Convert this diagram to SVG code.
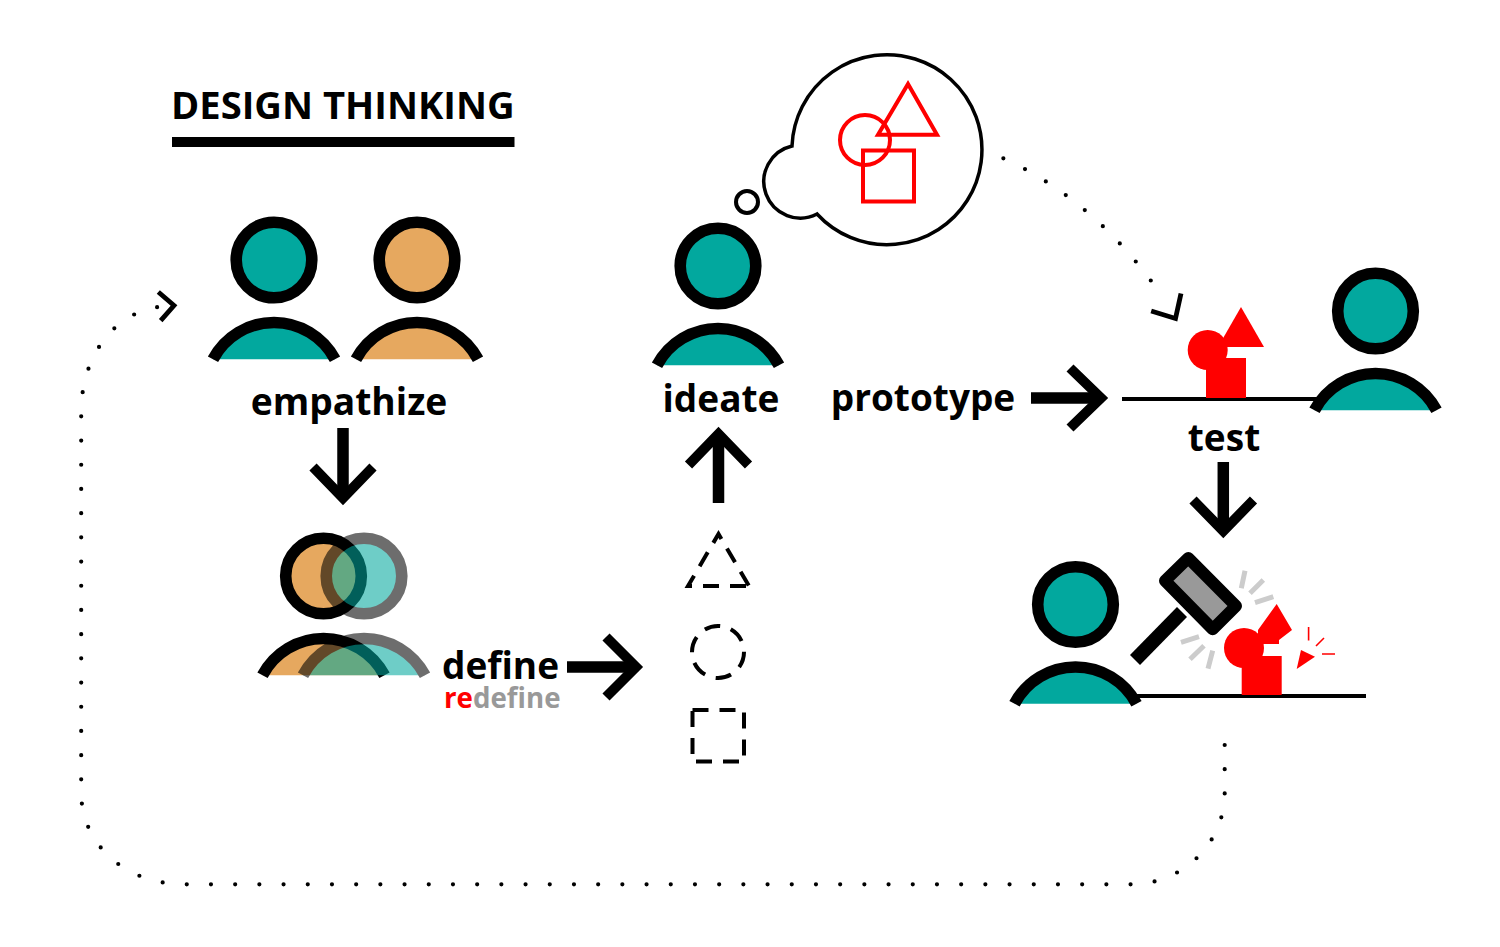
<svg xmlns="http://www.w3.org/2000/svg" xmlns:xlink="http://www.w3.org/1999/xlink" width="1500" height="947" viewBox="0 0 1500 947">
<style>
.t{font-family:"Open Sans","Liberation Sans",sans-serif;font-weight:700;fill:#000}
.ring{fill:none;stroke:#000;stroke-width:11.600}
.teal{fill:#02a89e}.org{fill:#e6a85f}
.arr{fill:none;stroke:#000;stroke-width:10}
.sh{fill:none;stroke:#000;stroke-width:11.500}
.dot{fill:none;stroke:#000;stroke-width:4.200;stroke-linecap:round;stroke-dasharray:0 24.200}
.head{fill:none;stroke:#000;stroke-width:4.800}
.dash{fill:none;stroke:#000;stroke-width:4;stroke-dasharray:16 11}
.red{fill:#f00}.ro{fill:none;stroke:#f00;stroke-width:4}
.spark{stroke:#ccc;stroke-width:5;fill:none}
.rs{stroke:#f00;stroke-width:1.600;fill:none}
.ln{stroke:#000;stroke-width:4;fill:none}
</style>
<defs>
<g id="pr"><circle cx="0" cy="0" r="37.800" class="ring"/><path d="M-61 99.200A69 69 0 0 1 61 99.200" class="ring"/></g>
<path id="pb" d="M-61 99.200A69 69 0 0 1 61 99.200Z"/>
<circle id="ph" cx="0" cy="0" r="37.800"/>
</defs>
<g id="title"><text class="t" x="171" y="118.500" font-size="38.200">DESIGN THINKING</text><rect x="172" y="137" width="342.500" height="10"/></g>
<g id="connectors">
<path class="sh" d="M343 428V498"/><path class="arr" d="M313 467L343 498L373 467"/>
<path class="sh" d="M567 667H636"/><path class="arr" d="M606 637L636 667L606 697"/>
<path class="sh" d="M718.500 503V434"/><path class="arr" d="M688.500 465L718.500 434L748.500 465"/>
<path class="sh" d="M1031 398H1101"/><path class="arr" d="M1070 368L1101 398L1070 428"/>
<path class="sh" d="M1223.300 462V531"/><path class="arr" d="M1193 500L1223.300 531L1253.500 500"/>
<path class="dot" d="M981 149Q1090 190 1164.700 300"/>
<path class="head" d="M1151.200 311L1175.500 318.500L1181 293.500"/>
<path class="dot" d="M1224.700 745V793C1224.700 843 1183 884.300 1131 884.300H184C126 884.300 81.500 845 81.200 793V414C80.700 355 115 313 158.300 307"/>
<path class="head" d="M158.300 292L174 305.500L160.700 320.700"/>
</g>
<g id="empathize"><use xlink:href="#ph" href="#ph" x="274" y="260" class="teal"/><use xlink:href="#pb" href="#pb" x="274" y="260" class="teal"/><use xlink:href="#pr" href="#pr" x="274" y="260"/>
<use xlink:href="#ph" href="#ph" x="417" y="260" class="org"/><use xlink:href="#pb" href="#pb" x="417" y="260" class="org"/><use xlink:href="#pr" href="#pr" x="417" y="260"/>
<text class="t" x="349" y="415" font-size="37.200" text-anchor="middle">empathize</text></g>
<g id="define"><use xlink:href="#ph" href="#ph" x="323.500" y="576" class="org"/><use xlink:href="#pb" href="#pb" x="323.500" y="576" class="org"/><use xlink:href="#pr" href="#pr" x="323.500" y="576"/>
<g opacity=".57"><use xlink:href="#ph" href="#ph" x="364" y="576" class="teal"/><use xlink:href="#pb" href="#pb" x="364" y="576" class="teal"/><use xlink:href="#pr" href="#pr" x="364" y="576"/></g>
<text class="t" x="442" y="679" font-size="37">define</text>
<text class="t" x="444" y="707.500" font-size="27.700"><tspan style="fill:#f00">re</tspan><tspan style="fill:#999">define</tspan></text></g>
<g id="ideate"><use xlink:href="#ph" href="#ph" x="718" y="266" class="teal"/><use xlink:href="#pb" href="#pb" x="718" y="266" class="teal"/><use xlink:href="#pr" href="#pr" x="718" y="266"/>
<text class="t" x="721" y="412" font-size="37" text-anchor="middle">ideate</text></g>
<g id="thought"><path d="M792 146A95 95 0 1 1 817 214A36.500 36.500 0 1 1 792 146Z" fill="#fff" stroke="#000" stroke-width="3.500"/><circle cx="747" cy="202" r="11" fill="#fff" stroke="#000" stroke-width="4"/>
<circle cx="865" cy="140" r="25" class="ro"/><path class="ro" d="M908 84L937 134.700H878Z"/><rect class="ro" x="863" y="150.500" width="51" height="51"/></g>
<g id="shapes"><path class="dash" d="M746 586H688L718.500 534L749 586"/><circle class="dash" cx="718" cy="652" r="26"/><rect class="dash" x="692.500" y="710" width="51.500" height="51.500"/></g>
<g id="prototype"><text class="t" x="923" y="411" font-size="37" text-anchor="middle">prototype</text></g>
<g id="test"><path class="ln" d="M1122 399H1320"/><circle class="red" cx="1207.700" cy="350" r="20"/><path class="red" d="M1241 307L1264 347H1218Z"/><rect class="red" x="1206" y="358" width="40" height="40"/>
<use xlink:href="#ph" href="#ph" x="1375.500" y="311" class="teal"/><use xlink:href="#pb" href="#pb" x="1375.500" y="311" class="teal"/><use xlink:href="#pr" href="#pr" x="1375.500" y="311"/>
<text class="t" x="1224" y="451" font-size="37" text-anchor="middle">test</text></g>
<g id="break"><path class="ln" d="M1135 696H1366"/>
<use xlink:href="#ph" href="#ph" x="1075.500" y="604.500" class="teal"/><use xlink:href="#pb" href="#pb" x="1075.500" y="604.500" class="teal"/><use xlink:href="#pr" href="#pr" x="1075.500" y="604.500"/>
<path d="M1135 660L1182 612" stroke="#000" stroke-width="14" fill="none"/>
<path d="M1188.300 558L1236 606L1212.700 629.300L1165 580.700Z" fill="#999" stroke="#000" stroke-width="12" stroke-linejoin="round"/>
<path class="spark" d="M1245 570.700L1241.300 588.300M1263.300 580L1250 593.300M1273.300 596.700L1255 602.700M1199 636.700L1181 642.300M1204 645.700L1190 659.300M1212.700 650.700L1208 668.700"/>
<circle class="red" cx="1244" cy="648" r="20"/><rect class="red" x="1241.700" y="656" width="40" height="39"/><path class="red" d="M1276.700 604L1292 630L1279 640V644H1258V630Z"/>
<path class="red" d="M1301 650L1315 656.700L1296.700 669Z"/><path class="rs" d="M1308.600 627V640.600M1324 638L1316 646M1322 654H1335"/></g>
</svg>
